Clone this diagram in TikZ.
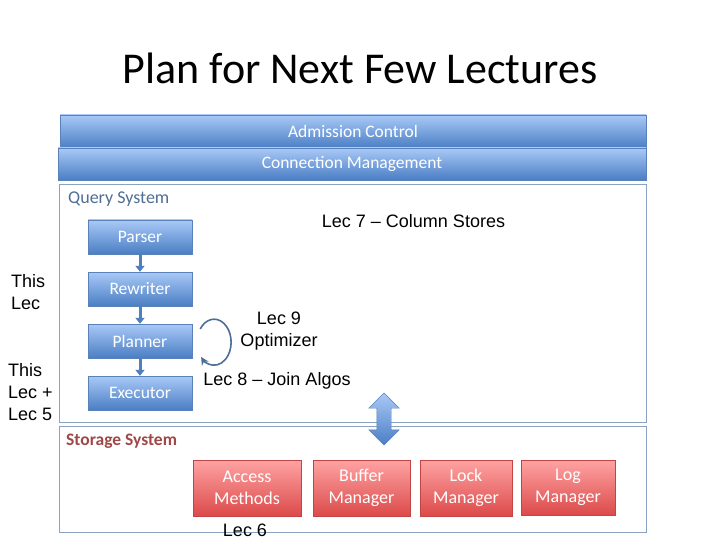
\documentclass[tikz,border=0pt]{standalone}
\usepackage{fontspec}
\usepackage{xcolor}
\setmainfont{Carlito}
\newfontfamily\arialfont{Liberation Sans}
\usetikzlibrary{shapes.arrows,arrows.meta}

\definecolor{blueedge}{HTML}{5A82B8}
\definecolor{bluetop}{HTML}{A9C9F7}
\definecolor{bluebot}{HTML}{4A7EC4}
\definecolor{redtop}{HTML}{FFA3A3}
\definecolor{redbot}{HTML}{DC4A4A}
\definecolor{rededge}{HTML}{C24444}
\definecolor{frame}{HTML}{8CA3BF}
\definecolor{qlabel}{HTML}{4F6E96}
\definecolor{slabel}{HTML}{A04848}
\definecolor{flow}{HTML}{4F7FBF}

\begin{document}
\begin{tikzpicture}[x=1pt,y=-1pt,
   bar/.style={draw=blueedge,top color=bluetop,bottom color=bluebot,text=white,
     font=\fontsize{17.5}{19}\selectfont,inner sep=0},
   blue box/.style={bar,minimum width=104,minimum height=34},
   red box/.style={draw=rededge,top color=redtop,bottom color=redbot,text=white,
     align=center,font=\fontsize{18}{22}\selectfont,minimum height=56,inner sep=0},
   system/.style={draw=frame,fill=white,minimum width=587,inner sep=0},
   lec/.style={font=\arialfont\fontsize{18}{22}\selectfont,inner sep=0}]

  \useasboundingbox (0,0) rectangle (720,540);

  \node (title) at (360,68) {\fontsize{44}{48}\selectfont Plan for Next Few Lectures};

  \node[bar,minimum width=586,minimum height=33] (admit) at (353,131.5) {Admission Control};
  \node[bar,minimum width=588,minimum height=32] (conn) at (352,164) {Connection Management};

  \node[system,minimum height=238] (qsys) at (352.5,303) {};
  \node[system,minimum height=106] (ssys) at (352.5,479) {};
  \node[anchor=west,text=qlabel,font=\fontsize{18}{19}\selectfont,inner sep=0] (qname) at (68,199) {Query System};
  \node[anchor=west,text=slabel,font=\bfseries\fontsize{17.5}{19}\selectfont,inner sep=0] (sname) at (66,441) {Storage System};

  % query pipeline
  \node[blue box] (parser) at (140,237) {Parser};
  \node[blue box] (rewriter) at (140,289) {Rewriter};
  \node[blue box] (planner) at (140,341) {Planner};
  \node[blue box] (executor) at (140,393) {Executor};
  \foreach \from/\to in {parser/rewriter,rewriter/planner,planner/executor}
    \draw[flow,line width=3pt,-{Triangle[length=6pt,width=9pt]}] (\from) -- (\to);

  \draw[qlabel,line width=1.6pt,-{Stealth[length=8pt,width=8pt]}]
    ([shift={(8,-12)}]planner.east) arc[start angle=-145,end angle=140,x radius=17,y radius=23];

  % storage managers
  \node[red box,minimum width=108] (access) at (247,488) {Access\\Methods};
  \node[red box,minimum width=97] (buffer) at (361.5,488) {Buffer\\Manager};
  \node[red box,minimum width=92] (lock) at (466,488) {Lock\\Manager};
  \node[red box,minimum width=94,minimum height=55] (log) at (568,487.5) {Log\\Manager};

  \node[shape=double arrow,shape border rotate=90,draw=blueedge,top color=bluetop,bottom color=bluebot,
    minimum height=52,double arrow head extend=8pt,inner sep=7pt] (iface) at (384,419) {};

  % lecture notes
  \node[lec,anchor=west,align=left] (thislec) at (11,292) {This\\Lec};
  \node[lec,anchor=west,align=left] (thislec5) at (8,392) {This\\Lec +\\Lec 5};
  \node[lec] (lec7) at (413.5,221) {Lec 7 – Column Stores};
  \node[lec,align=center] (lec9) at (279,331) {Lec 9\\Optimizer};
  \node[lec] (lec8) at (277,381) {Lec 8 – Join Algos};
  \node[lec] (lec6) at (245,530) {Lec 6};
\end{tikzpicture}
\end{document}
